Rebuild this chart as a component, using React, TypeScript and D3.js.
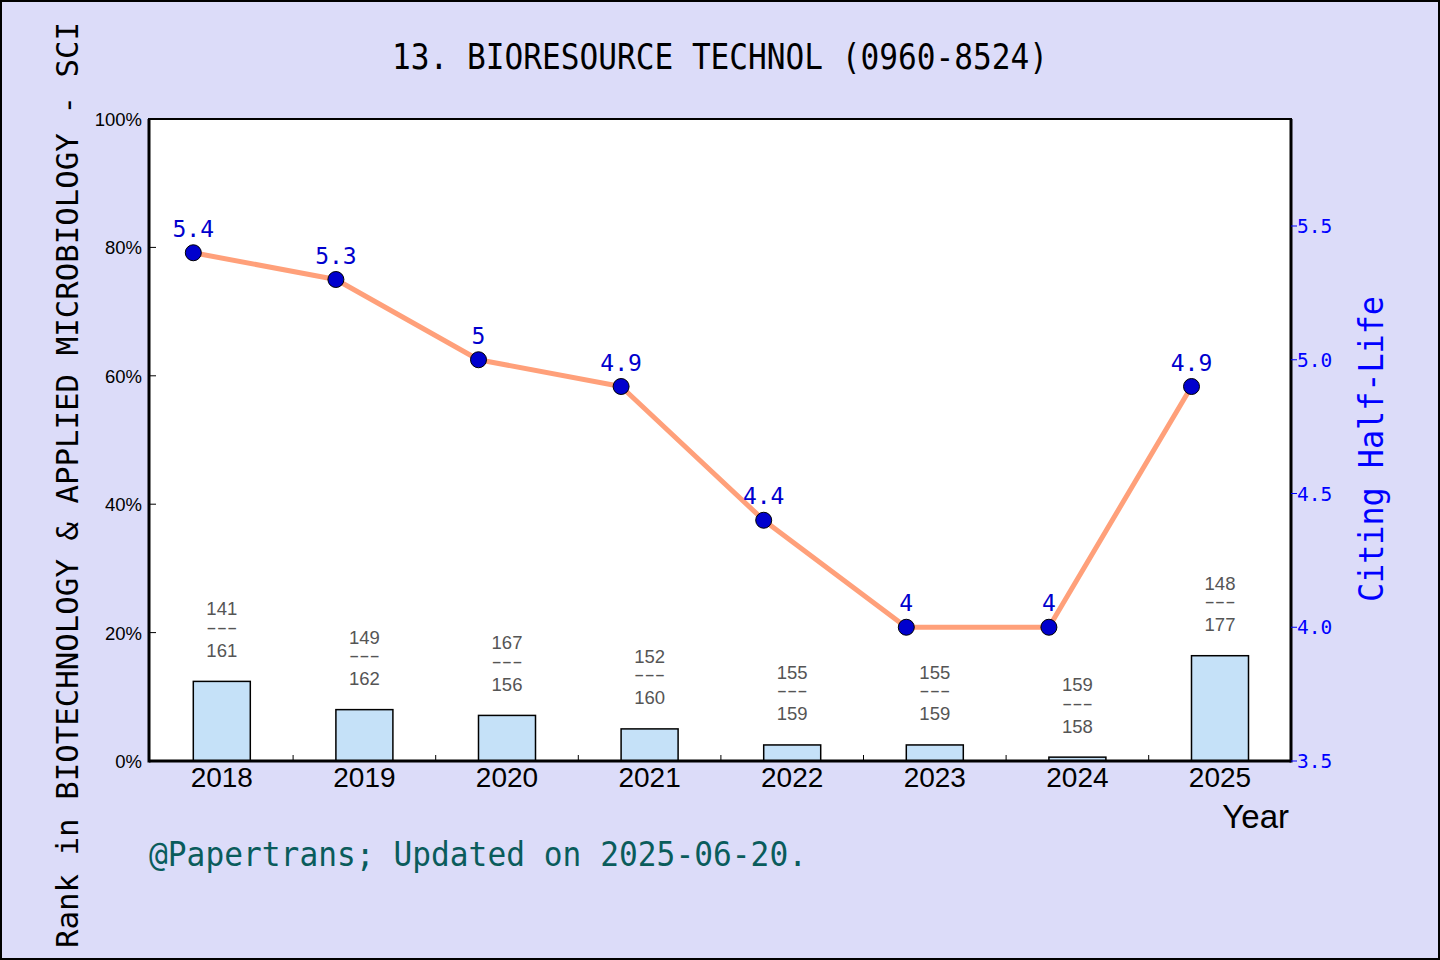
import * as d3 from "d3"

const YEARS = ["2018", "2019", "2020", "2021", "2022", "2023", "2024", "2025"]
const RANK_PCT = [12.4, 8.0, 7.1, 5.0, 2.5, 2.5, 0.6, 16.4]
const RANK_NUM = ["141", "149", "167", "152", "155", "155", "159", "148"]
const RANK_TOTAL = ["161", "162", "156", "160", "159", "159", "158", "177"]
const HALF_LIFE = [5.4, 5.3, 5.0, 4.9, 4.4, 4.0, 4.0, 4.9]
const LEFT_TICKS = [0, 20, 40, 60, 80, 100]
const RIGHT_TICKS = [3.5, 4.0, 4.5, 5.0, 5.5]

const W = 1440
const H = 960
const BG = "#dcdcf9"
const MONO = "'DejaVu Sans Mono', monospace"
const SANS = "'Liberation Sans', Arial, sans-serif"

const plot = { left: 149, right: 1291, top: 119, bottom: 761 }

export default function App() {
  const x = d3.scaleBand<string>().domain(YEARS).range([150.5, 1291.3]).padding(0)
  const yL = d3.scaleLinear().domain([0, 100]).range([plot.bottom, plot.top])
  const yR = d3.scaleLinear().domain([3.5, 5.9]).range([plot.bottom, plot.top])
  const barW = 57
  const cx = (yr: string) => (x(yr) ?? 0) + x.bandwidth() / 2
  const px = (yr: string) => cx(yr) - barW / 2

  const line = d3
    .line<number>()
    .x((_, i) => px(YEARS[i]))
    .y((d) => yR(d))

  return (
    <svg width={W} height={H} style={{ position: "absolute", left: 0, top: 0 }}>
      <rect x={1} y={1} width={W - 2} height={H - 2} fill={BG} stroke="#000" strokeWidth={2} />

      {/* title */}
      <text x={720} y={69} textAnchor="middle" fontFamily={MONO} fontSize={36} fill="#000"
        textLength={656} lengthAdjust="spacingAndGlyphs">
        13. BIORESOURCE TECHNOL (0960-8524)
      </text>

      {/* plot area */}
      <rect x={plot.left} y={plot.top} width={plot.right - plot.left} height={plot.bottom - plot.top}
        fill="#fff" stroke="#000" strokeWidth={2} />

      {/* bars */}
      {YEARS.map((yr, i) => (
        <rect key={"b" + yr} x={cx(yr) - barW / 2} y={yL(RANK_PCT[i])} width={barW}
          height={plot.bottom - yL(RANK_PCT[i])} fill="#c5e1f8" stroke="#000" strokeWidth={1.5} />
      ))}

      {/* bar labels */}
      {YEARS.map((yr, i) => {
        const top = yL(RANK_PCT[i])
        return (
          <g key={"l" + yr} fontFamily={SANS} fontSize={18.5} fill="#555" textAnchor="middle">
            <text x={cx(yr)} y={top - 66}>{RANK_NUM[i]}</text>
            <text x={cx(yr)} y={top - 47.5} textLength={31} lengthAdjust="spacingAndGlyphs">---</text>
            <text x={cx(yr)} y={top - 24.5}>{RANK_TOTAL[i]}</text>
          </g>
        )
      })}

      {/* axes lines */}
      <line x1={plot.left} x2={plot.left} y1={plot.top} y2={plot.bottom + 1.5} stroke="#000" strokeWidth={3} />
      <line x1={plot.right} x2={plot.right} y1={plot.top} y2={plot.bottom + 1.5} stroke="#000" strokeWidth={3} />
      <line x1={plot.left} x2={plot.right} y1={plot.bottom} y2={plot.bottom} stroke="#000" strokeWidth={3} />

      {/* left ticks */}
      {LEFT_TICKS.map((t) => (
        <g key={"lt" + t}>
          <line x1={plot.left} x2={plot.left + 7} y1={yL(t)} y2={yL(t)} stroke="#000" strokeWidth={1} />
          <text x={142} y={yL(t) + 7} textAnchor="end" fontFamily={SANS} fontSize={18.5} fill="#000">
            {t}%
          </text>
        </g>
      ))}

      {/* right ticks */}
      {RIGHT_TICKS.map((t) => (
        <g key={"rt" + t}>
          <line x1={plot.right} x2={plot.right + 6} y1={yR(t)} y2={yR(t)} stroke="#0000ff" strokeWidth={1} />
          <text x={1297} y={yR(t) + 7} fontFamily={MONO} fontSize={19.5} fill="#0000ff">
            {t.toFixed(1)}
          </text>
        </g>
      ))}

      {/* x ticks and labels */}
      {YEARS.slice(1).map((yr) => (
        <line key={"xt" + yr} x1={x(yr)} x2={x(yr)} y1={plot.bottom} y2={plot.bottom - 6} stroke="#000" strokeWidth={1} />
      ))}
      {YEARS.map((yr) => (
        <text key={"xl" + yr} x={cx(yr)} y={787} textAnchor="middle" fontFamily={SANS} fontSize={28} fill="#000">
          {yr}
        </text>
      ))}
      <text x={1289} y={828} textAnchor="end" fontFamily={SANS} fontSize={33} fill="#000">Year</text>

      {/* half-life line */}
      <path d={line(HALF_LIFE) ?? ""} fill="none" stroke="#ffa07a" strokeWidth={5} strokeLinejoin="round" />
      {HALF_LIFE.map((v, i) => (
        <g key={"p" + i}>
          <circle cx={px(YEARS[i])} cy={yR(v)} r={8} fill="#0000cd" stroke="#000" strokeWidth={1} />
          <text x={px(YEARS[i])} y={yR(v) - 16} textAnchor="middle" fontFamily={MONO} fontSize={23} fill="#0000cd">
            {String(v)}
          </text>
        </g>
      ))}

      {/* axis titles */}
      <text transform="translate(78,948) rotate(-90)" fontFamily={MONO} fontSize={30.5} fill="#000"
        textLength={926} lengthAdjust="spacingAndGlyphs">
        Rank in BIOTECHNOLOGY &amp; APPLIED MICROBIOLOGY - SCI
      </text>
      <text transform="translate(1383,449) rotate(-90)" textAnchor="middle" fontFamily={MONO} fontSize={34}
        fill="#0000ff" textLength={306} lengthAdjust="spacingAndGlyphs">
        Citing Half-Life
      </text>

      {/* footnote */}
      <text x={149} y={866} fontFamily={MONO} fontSize={34} fill="#0a5c5c"
        textLength={658} lengthAdjust="spacingAndGlyphs">
        @Papertrans; Updated on 2025-06-20.
      </text>
    </svg>
  )
}
